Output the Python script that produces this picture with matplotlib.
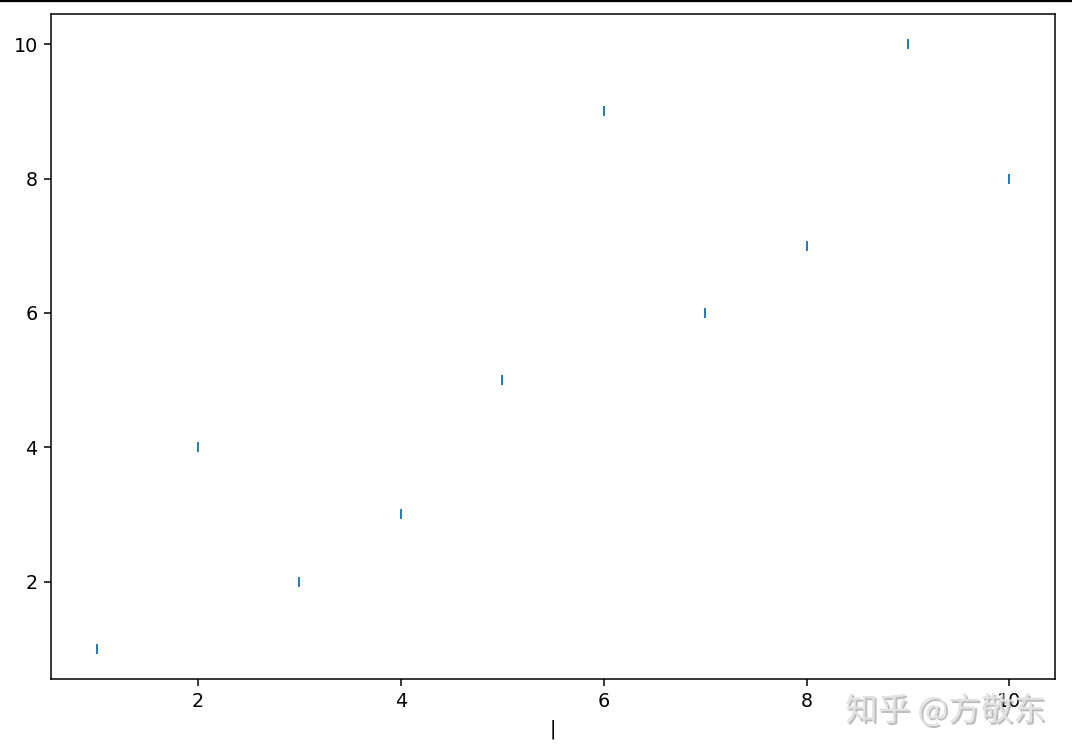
import matplotlib
matplotlib.use("Agg")
import matplotlib.pyplot as plt
import matplotlib.patheffects as pe
from matplotlib.lines import Line2D

# Data
x = [1, 2, 3, 4, 5, 6, 7, 8, 9, 10]
y = [1, 4, 2, 3, 5, 9, 6, 7, 10, 8]
marker = "|"

DPI = 137.5
fig = plt.figure(figsize=(1072 / DPI, 754 / DPI), dpi=DPI)
ax = fig.add_axes([51 / 1072, 1 - 679 / 754, 1004 / 1072, 665 / 754])

ax.scatter(x, y, marker=marker, linewidths=1.0, s=30)
ax.set_xlabel(marker)
ax.set_yticks([2, 4, 6, 8, 10])

# thin border line at the very top of the image
fig.add_artist(Line2D([0, 1], [0.9985, 0.9985], color="black", lw=1.2,
                      transform=fig.transFigure))

# watermark
fig.text(0.882, 0.057, "知乎 @方敬东", fontsize=17, color="#e2e2e2",
         family=["Noto Sans CJK SC", "DejaVu Sans"], ha="center", va="center",
         path_effects=[pe.withSimplePatchShadow(offset=(1, -1),
                                                shadow_rgbFace="#a0a0a0",
                                                alpha=0.7)])

fig.savefig("out.png", dpi=DPI)
